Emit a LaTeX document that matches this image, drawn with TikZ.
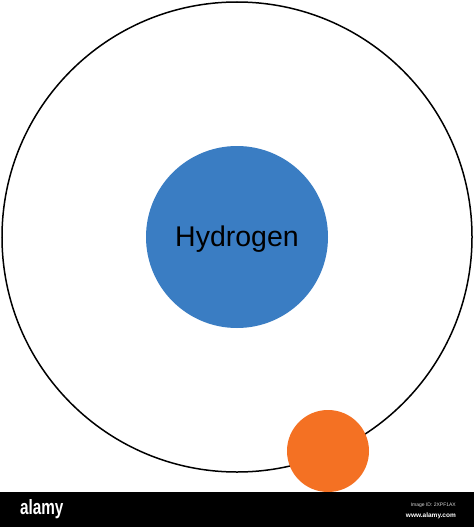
\documentclass[tikz,border=0pt]{standalone}
\usepackage{fontspec}
\setmainfont{Liberation Sans}
\definecolor{nucblue}{RGB}{58,125,195}
\definecolor{elorange}{RGB}{244,113,35}
\begin{document}
\begin{tikzpicture}[x=1pt,y=-1pt,
  orbit/.style={draw=black,line width=1.5pt},
  nucleus/.style={circle,fill=nucblue,minimum size=182pt,inner sep=0pt},
  electron/.style={circle,fill=elorange,minimum size=82pt,inner sep=0pt}]
\useasboundingbox (0,0) rectangle (474,527);
\fill[white] (0,0) rectangle (474,527);
\draw[orbit] (237,237) circle (235);
\node[nucleus] (nuc) at (237,237) {};
\node[font=\fontsize{28.5}{30}\selectfont,inner sep=0pt] (lbl) at (237,239) {Hydrogen};
\node[electron] (el) at (328,451) {};
\fill[black] (0,492) rectangle (474,527);
\node[text=white,font=\bfseries\fontsize{18}{19}\selectfont,anchor=west,xscale=0.85,yscale=1.15] (logo) at (17,509) {alamy};
\node[text=white!85!black,font=\fontsize{5}{6}\selectfont,anchor=east,inner sep=0pt] (imgid) at (456,505) {Image ID: 2XPF1AX};
\node[text=white,font=\bfseries\fontsize{6.5}{7}\selectfont,anchor=east,inner sep=0pt] (url) at (456,516) {www.alamy.com};
\end{tikzpicture}
\end{document}
